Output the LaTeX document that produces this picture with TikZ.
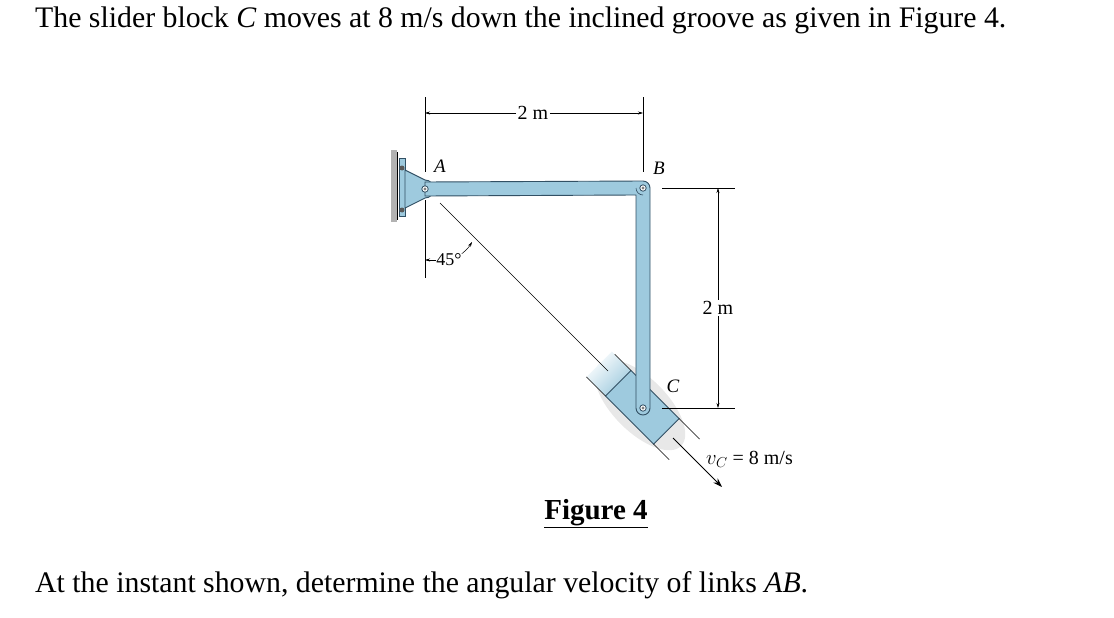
\documentclass[tikz,border=0pt]{standalone}
\usepackage{fontspec}
\setmainfont{Liberation Serif}
\usetikzlibrary{arrows.meta,calc}
\definecolor{rod}{RGB}{158,202,222}
\definecolor{rodline}{RGB}{50,80,100}
\begin{document}
\begin{tikzpicture}[x=1pt,y=-1pt,
  rodst/.style={fill=rod,draw=rodline,line width=0.9pt},
  dim/.style={line width=0.5pt},
  dimarr/.style={line width=0.5pt,-{Stealth[length=5pt,width=3pt]}},
  lab/.style={font=\fontsize{19}{19}\selectfont\itshape,inner sep=0pt},
  dlab/.style={font=\fontsize{20}{20}\selectfont,inner sep=1.5pt,fill=white},
  txt/.style={font=\fontsize{29.8}{30}\selectfont,inner sep=0pt,anchor=west}]
\useasboundingbox (0,0) rectangle (1114,618);
\node[txt] (t1) at (35,20) {The slider block \textit{C} moves at 8 m/s down the inclined groove as given in Figure 4.};
\node[txt] (t2) at (35,585) {At the instant shown, determine the angular velocity of links \textit{AB}.};
\node[font=\fontsize{29}{29}\selectfont\bfseries,inner sep=0pt] (fig) at (596,514) {\underline{Figure 4}};
\coordinate (A) at (425,189);
\coordinate (B) at (643,188);
\coordinate (C) at (643,408);
\foreach \s/\nm in {-62/a,-58/b,-35/c,33/d,55/e,62/f}{
  \coordinate (\nm U) at ($(C)+(\s*0.7071,\s*0.7071)+(18*0.7071,-18*0.7071)$);
  \coordinate (\nm L) at ($(C)+(\s*0.7071,\s*0.7071)+(-18*0.7071,18*0.7071)$);
}
% shadow
\fill[gray!18,rotate around={-45:(640,405)}] (640,405) ellipse (58 and 27);
% stub
\shade[left color=white,right color=rod,shading angle=45] (aU) -- (cU) -- (cL) -- (aL) -- cycle;
% block
\draw[rodst] (cU) -- (dU) -- (dL) -- (cL) -- cycle;
% groove lines
\draw[line width=0.6pt] (bU) -- (cU);
\draw[line width=0.6pt] (dU) -- (fU);
\draw[line width=0.6pt] (aL) -- (cL);
\draw[line width=0.6pt] (dL) -- (eL);
% diagonal
\draw[line width=0.6pt] (440,203) -- (608,371);
% wall & bracket
\fill[gray!60] (391,150) rectangle (397,222);
\draw[line width=0.8pt] (397,152) -- (397,220);
\draw[rodst] (399,158) rectangle (405,216);
\draw[rodst] (405,170) -- (425,180) arc (-90:90:9) -- (405,208) -- cycle;
\fill[gray!70!black] (402,168) circle (2.5) (402,210) circle (2.5);
% rods
\draw[rodst] ($(A)+(0,-7)$) -- ($(B)+(0,-7)$) arc (-90:0:7) -- ($(C)+(7,0)$) arc (0:180:7) -- ($(B)+(-7,7)$) -- ($(A)+(0,7)$) -- cycle;
\draw[rodline,line width=0.6pt] ($(B)+(-7,0)$) arc (180:90:7);
\foreach \p in {A,B,C}{\draw[rodline,fill=white,line width=0.8pt] (\p) circle (3.2); \fill[gray] (\p) circle (1.6);}
% dimensions
\draw[dim] (425,97) -- (425,172);
\draw[dim] (643,97) -- (643,172);
\draw[dim] (425,200) -- (425,278);
\node[dlab] (d1) at (533,113) {2 m};
\draw[dimarr] (d1.west) -- (425,113);
\draw[dimarr] (d1.east) -- (643,113);
\draw[dim] (662,188) -- (735,188);
\draw[dim] (662,408) -- (735,408);
\node[dlab] (d2) at (718,308) {2 m};
\draw[dimarr] (d2.north) -- (718,188);
\draw[dimarr] (d2.south) -- (718,408);
\node[font=\fontsize{18}{18}\selectfont,inner sep=0pt] (ang) at (449,260) {45°};
\draw[dimarr] (ang.west) -- (425,260);
\draw[dimarr] (ang.north east) to[bend right=10] (472,242);
% labels
\node[lab] (la) at (440,166) {A};
\node[lab] (lb) at (659,168) {B};
\node[lab] (lc) at (673,386) {C};
% velocity
\draw[line width=0.8pt,-{Stealth[length=9pt,width=6pt]}] (673,438) -- (722,487);
\node[font=\fontsize{20}{20}\selectfont,inner sep=0pt,anchor=west] (v) at (706,459) {$v_C$ = 8 m/s};
\end{tikzpicture}
\end{document}
